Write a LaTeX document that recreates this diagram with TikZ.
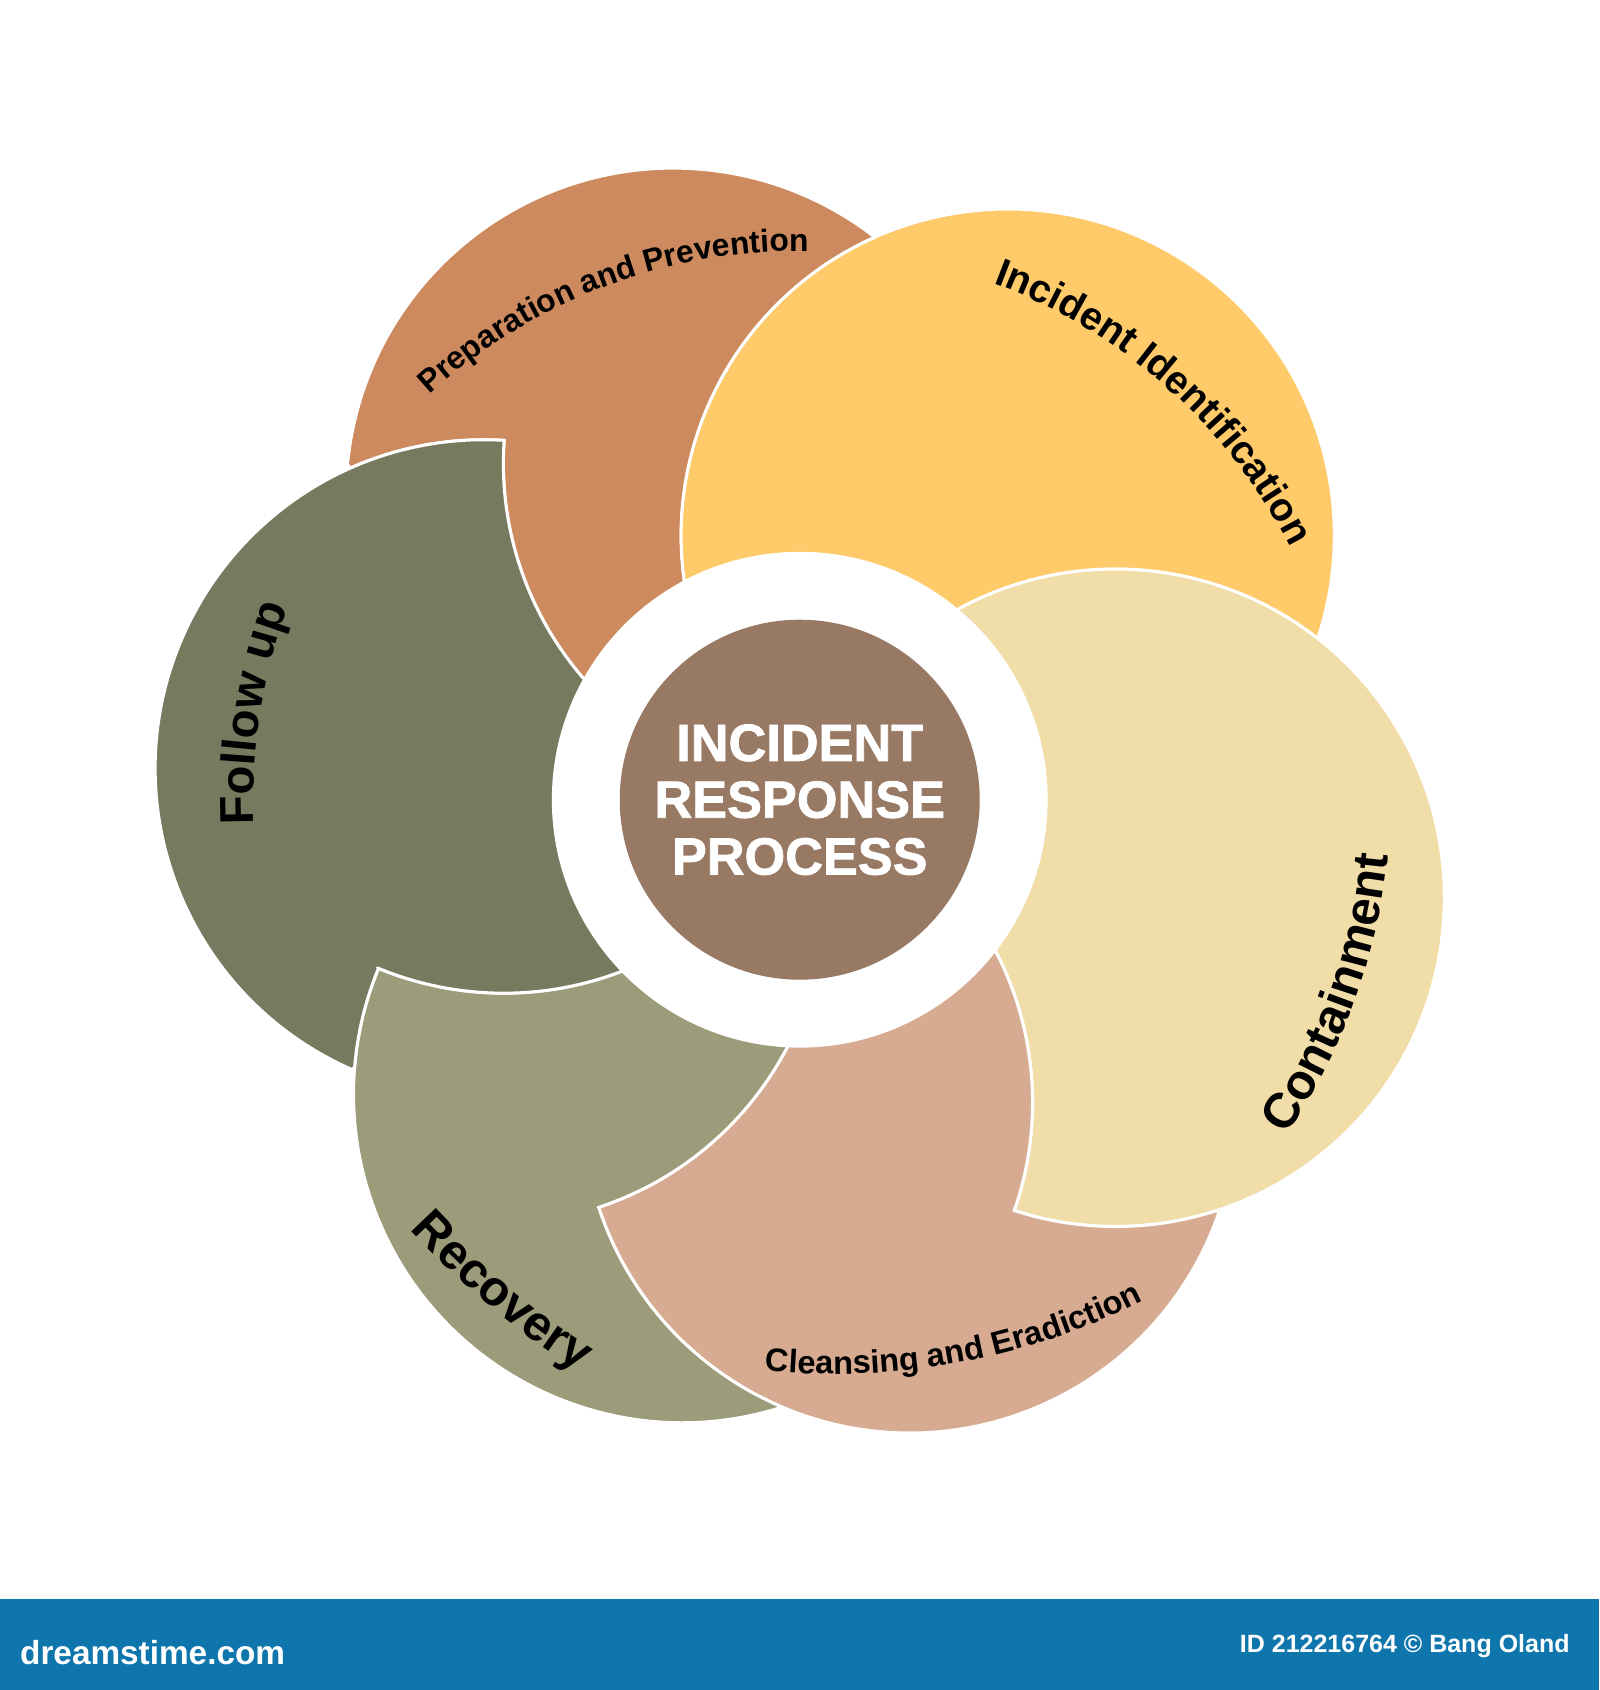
\documentclass[tikz,border=0pt]{standalone}
\usepackage{fontspec}
\setmainfont{Liberation Sans}
\newfontfamily\hubfont[BoldFeatures={FakeBold=1.5}]{Liberation Sans}
\usetikzlibrary{decorations.text}

\definecolor{prepcol}{HTML}{CD8A5F}
\definecolor{identcol}{HTML}{FECA6A}
\definecolor{containcol}{HTML}{F0DDA8}
\definecolor{cleancol}{HTML}{D6AB92}
\definecolor{recovcol}{HTML}{9C9C7A}
\definecolor{followcol}{HTML}{767B60}
\definecolor{hubcol}{HTML}{977964}
\definecolor{barcol}{HTML}{0E75AD}

\newcommand{\petalarc}[4]{-- ([shift={(#3:#2)}]#1) arc[start angle=#3,end angle=#4,radius=#2]}

\tikzset{
  petal/.style={draw=white,line width=0.8pt,line join=round},
  curved/.style n args={2}{decorate,decoration={text along path,text align=center,
    text={|\fontsize{#1}{#1}\selectfont\bfseries|#2}}}
}

\begin{document}
\begin{tikzpicture}

\useasboundingbox (0,0) rectangle (14.84,15.68);
\fill[white] (0,0) rectangle (14.84,15.68);

\coordinate (hub) at (7.42,8.26);
\coordinate (p1) at (6.25,11.08);
\coordinate (p2) at (9.35,10.71);
\coordinate (p3) at (10.35,7.35);
\coordinate (p4) at (8.44,5.42);
\coordinate (p5) at (6.33,5.53);
\coordinate (p6) at (4.49,8.55);
\coordinate (k1) at (7.72,11.38);
\coordinate (k4) at (6.53,5.45);
\coordinate (k5) at (4.60,7.375);
\coordinate (k6) at (4.674,9.515);
\coordinate (c1) at (7.74,9.30);
\coordinate (c2) at (9.69,9.69);

\path[petal,fill=prepcol] (hub) \petalarc{k1}{3.05}{224}{176.05} \petalarc{p6}{3.05}{86.4}{114}
  \petalarc{p1}{3.04}{174.5}{52.2} \petalarc{p2}{3.03}{114.2}{190} -- cycle;
\path[petal,fill=identcol] (hub) \petalarc{p2}{3.03}{190}{-18.6} \petalarc{p3}{3.05}{51.8}{125} -- cycle;
\path[petal,fill=containcol] (hub) \petalarc{p3}{3.05}{125}{-108} \petalarc{k4}{3.05}{-18.6}{33} -- cycle;
\path[petal,fill=cleancol] (hub) \petalarc{k4}{3.05}{33}{-18.6} \petalarc{p3}{3.05}{-108}{-72}
  \petalarc{p4}{3.035}{-19.2}{-161.9} \petalarc{k5}{3.05}{-71.9}{-22} -- cycle;
\path[petal,fill=recovcol] (hub) \petalarc{k5}{3.05}{-22}{-71.9} \petalarc{p4}{3.035}{-161.9}{-113.6}
  \petalarc{p5}{3.05}{-72.9}{-202.5} \petalarc{k6}{3.05}{-112.6}{-63} -- cycle;
\path[petal,fill=followcol] (hub) \petalarc{k6}{3.05}{-63}{-112.6} \petalarc{p5}{3.05}{157.5}{175.3}
  \petalarc{p6}{3.05}{246.4}{86.4} \petalarc{k1}{3.05}{176.05}{224} -- cycle;

\node[fill=white,shape=circle,minimum size=4.6cm,inner sep=0pt] (ring) at (hub) {};
\node[fill=hubcol,shape=circle,minimum size=3.34cm,inner sep=0pt,text=white,align=center,
  font=\hubfont\fontsize{13.8}{15}\selectfont\bfseries] (title) at (hub) {INCIDENT\\RESPONSE\\PROCESS};

\path[curved={8.4}{Preparation and Prevention}] ([shift={(133:5.09)}]hub) arc[start angle=133,end angle=88.5,radius=5.09];
\path[curved={10.4}{Incident Identification}] ([shift={(71.3:5.12)}]hub) arc[start angle=71.3,end angle=25.3,radius=5.12];
\path[curved={13}{Containment}] ([shift={(-36:5.48)}]hub) arc[start angle=-36,end angle=-4,radius=5.48];
\path[curved={8.6}{Cleansing and Eradiction}] ([shift={(-97:6.37)}]c1) arc[start angle=-97,end angle=-62,radius=6.37];
\path[curved={13}{Recovery}] ([shift={(-140:8)}]c2) arc[start angle=-140,end angle=-120,radius=8];
\path[curved={12.5}{Follow up}] ([shift={(183:5.07)}]hub) arc[start angle=183,end angle=159,radius=5.07];

\fill[barcol] (0,0) rectangle (14.84,0.84);
\node[anchor=west,inner sep=0pt,text=white,font=\fontsize{8.8}{8.8}\selectfont\bfseries] (site) at (0.18,0.35) {dreamstime.com};
\node[anchor=east,inner sep=0pt,text=white,font=\fontsize{6.6}{6.6}\selectfont\bfseries] (credit) at (14.57,0.41) {ID 212216764 © Bang Oland};

\end{tikzpicture}
\end{document}
